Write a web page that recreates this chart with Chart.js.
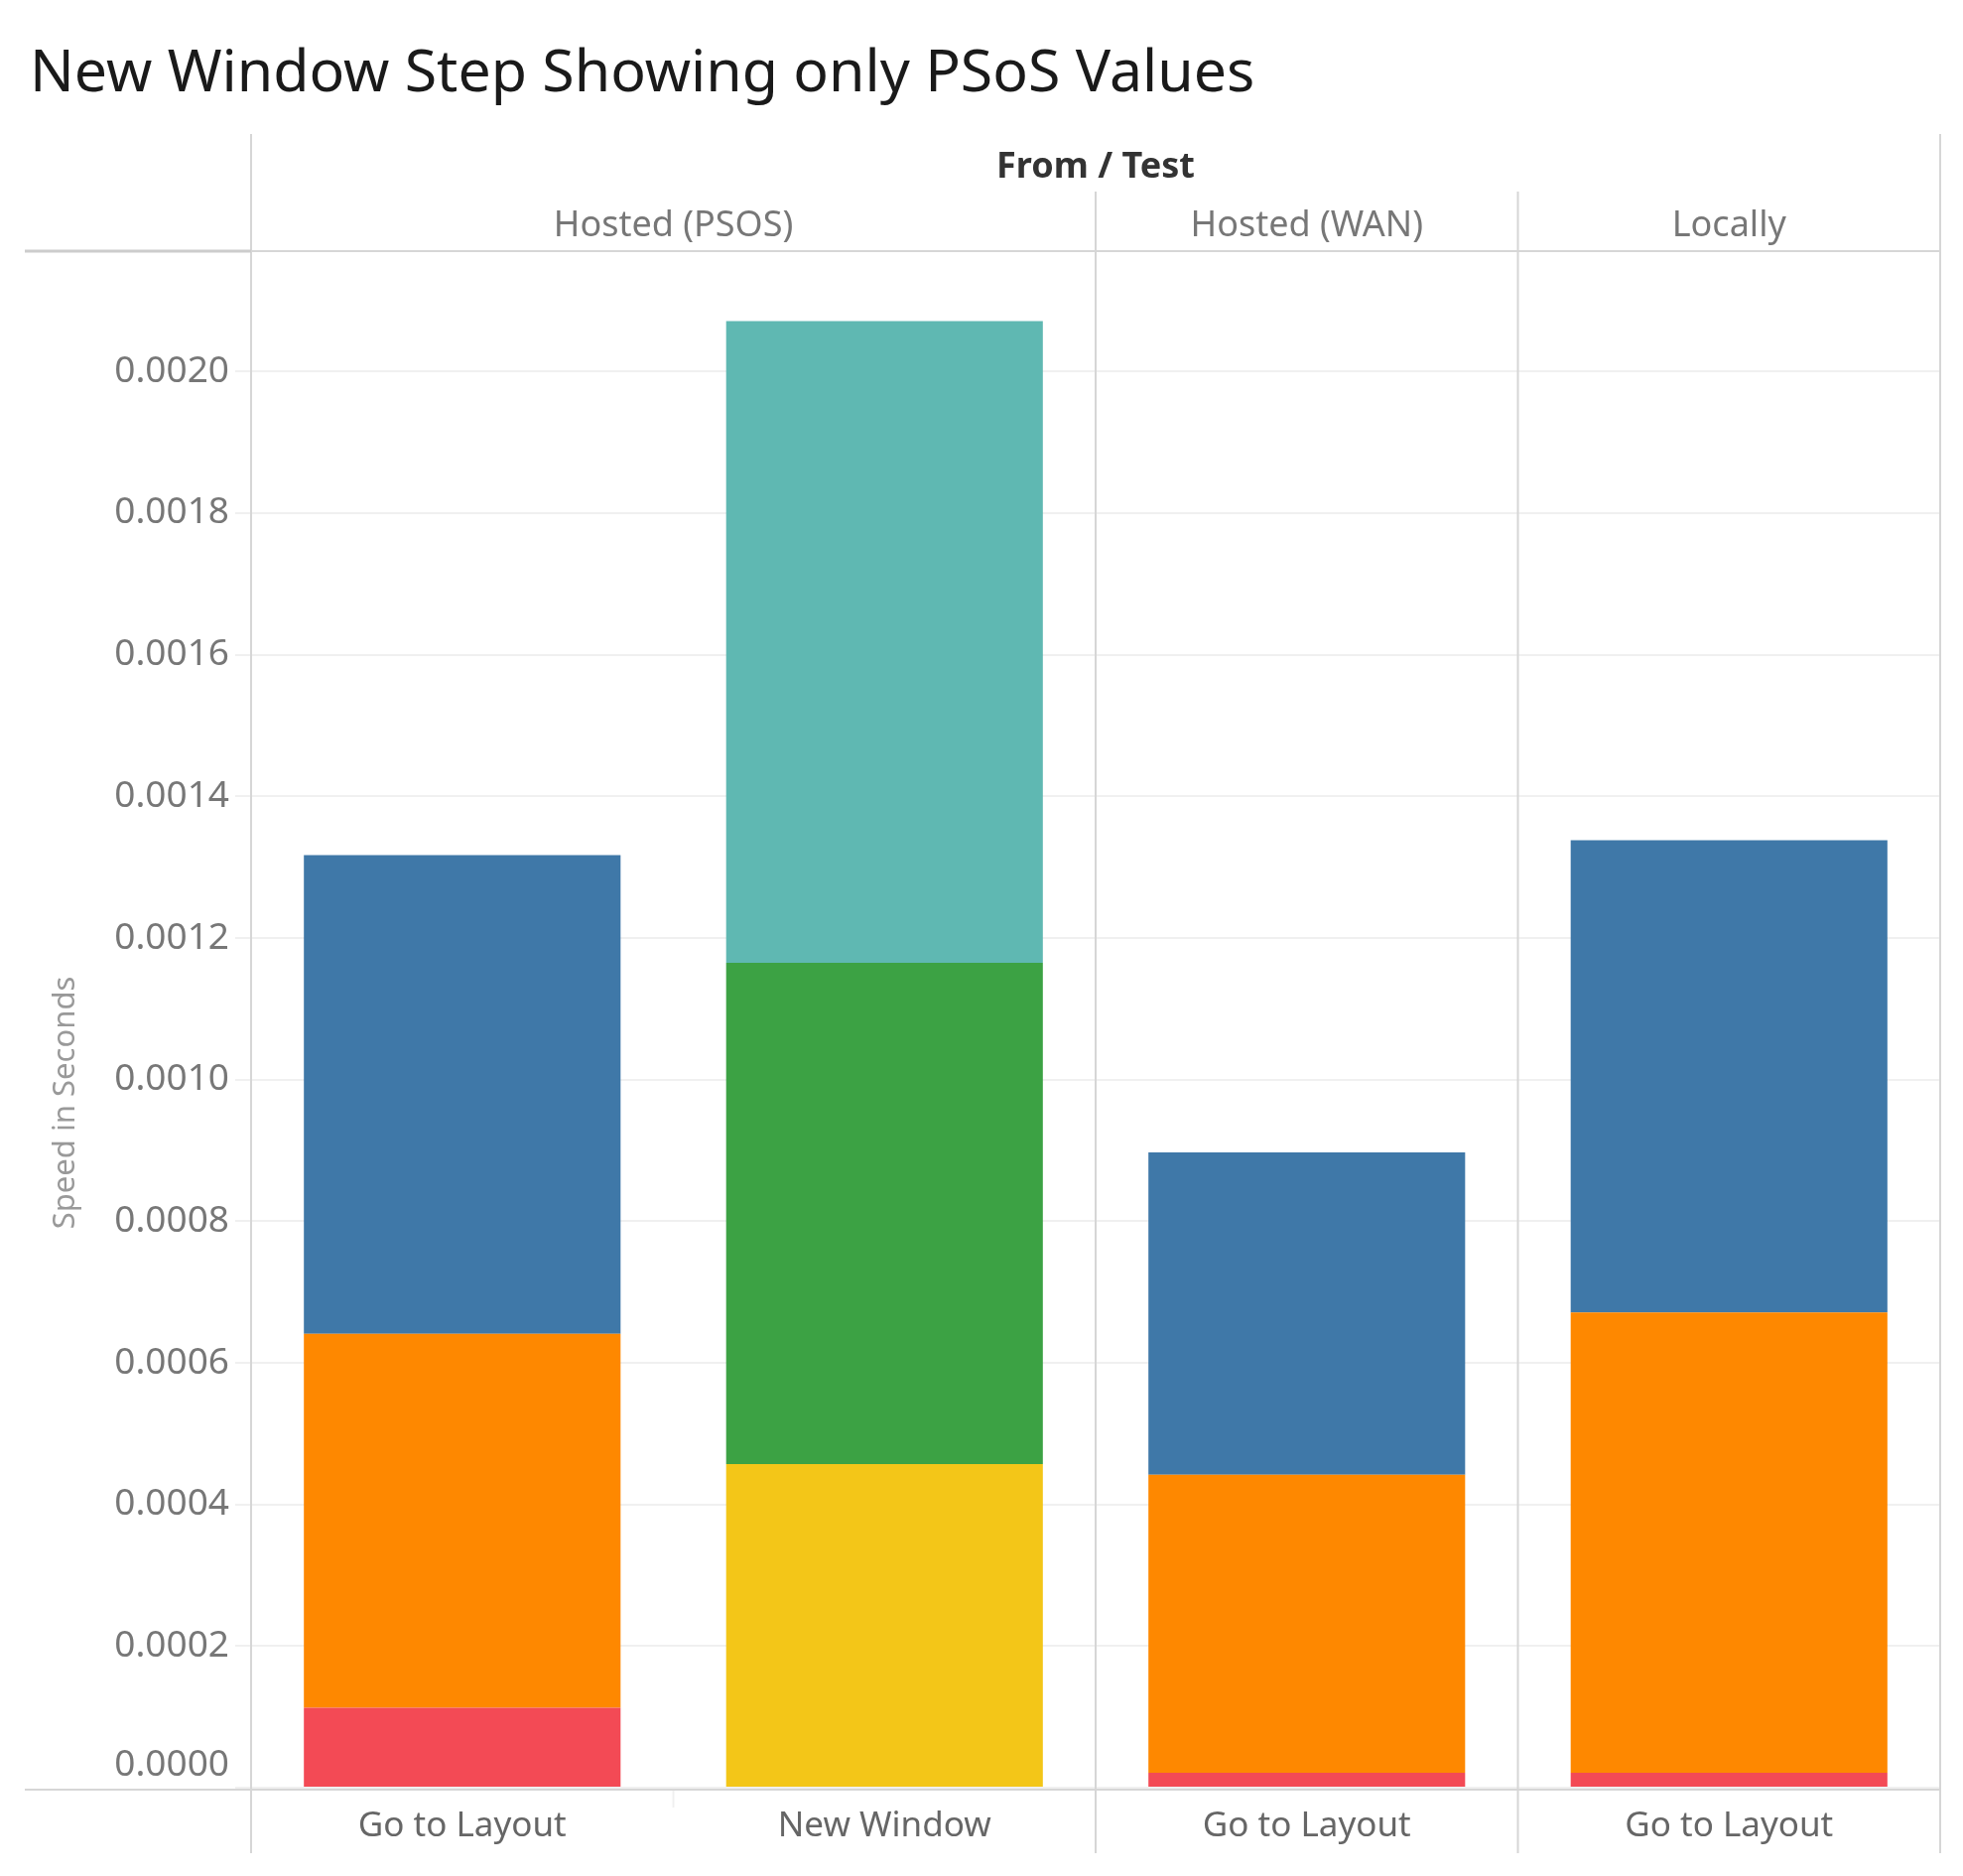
<!DOCTYPE html>
<html>
<head>
<meta charset="utf-8">
<title>New Window Step Showing only PSoS Values</title>
<script src="https://cdn.jsdelivr.net/npm/chart.js@4.4.1/dist/chart.umd.min.js"></script>
<style>
    html, body { margin: 0; padding: 0; background: #ffffff; }
    #wrap { width: 1978px; height: 1890px; position: relative; }
</style>
</head>
<body>
<div id="wrap"><canvas id="myBarChart"></canvas></div>
<script>
// test names along the x axis and where each one ran from
var tests = ['Go to Layout', 'New Window', 'Go to Layout', 'Go to Layout'];
var fromGroups = ['Hosted (PSOS)', 'Hosted (PSOS)', 'Hosted (WAN)', 'Locally'];

// stacked segments, seconds (null = segment not present for that test)
var redSegment    = [0.000113, null,     0.000021, 0.000021];
var orangeSegment = [0.000528, null,     0.000421, 0.000650];
var blueSegment   = [0.000676, null,     0.000455, 0.000667];
var yellowSegment = [null,     0.000457, null,     null];
var greenSegment  = [null,     0.000708, null,     null];
var tealSegment   = [null,     0.000906, null,     null];

var yMax = 0.00217;
var yStep = 0.0002;

var fontFamily = '"Noto Sans", "Open Sans", sans-serif';

window.onload = function() {
    var canvas = document.getElementById('myBarChart');

    var tableauFrame = {
        id: 'tableauFrame',
        beforeDraw: function(chart) {
            var ctx = chart.ctx;
            ctx.save();
            ctx.fillStyle = '#ffffff';
            ctx.fillRect(0, 0, chart.width, chart.height);
            ctx.restore();
        },
        afterDraw: function(chart) {
            var ctx = chart.ctx;
            var area = chart.chartArea;
            var x = chart.scales.x;

            ctx.save();

            // title
            ctx.fillStyle = '#1a1a1a';
            ctx.font = '400 59px ' + fontFamily;
            ctx.textAlign = 'left';
            ctx.textBaseline = 'alphabetic';
            ctx.fillText('New Window Step Showing only PSoS Values', 30, 92);

            // column header
            ctx.fillStyle = '#333333';
            ctx.font = '700 36px ' + fontFamily;
            ctx.textAlign = 'center';
            ctx.textBaseline = 'middle';
            ctx.fillText('From / Test', (area.left + area.right) / 2, 169);

            // group labels + group borders
            var half = (x.getPixelForValue(1) - x.getPixelForValue(0)) / 2;
            var start = 0;
            var bounds = [];
            for (var i = 1; i <= tests.length; i++) {
                if (i === tests.length || fromGroups[i] !== fromGroups[start]) {
                    var l = x.getPixelForValue(start) - half;
                    var r = x.getPixelForValue(i - 1) + half;
                    ctx.fillStyle = '#777777';
                    ctx.font = '400 36px ' + fontFamily;
                    ctx.fillText(fromGroups[start], (l + r) / 2, 228);
                    if (i < tests.length) bounds.push(r);
                    start = i;
                }
            }

            ctx.strokeStyle = '#d6d6d6';
            ctx.lineWidth = 2;
            ctx.beginPath();
            // header bottom and axis line
            ctx.moveTo(25, area.top); ctx.lineTo(area.right, area.top);
            ctx.moveTo(25, area.bottom + 2); ctx.lineTo(area.right, area.bottom + 2);
            // outer verticals
            ctx.moveTo(area.left, 135); ctx.lineTo(area.left, 1867);
            ctx.moveTo(area.right, 135); ctx.lineTo(area.right, 1867);
            bounds.forEach(function(bx) {
                ctx.moveTo(bx, 193); ctx.lineTo(bx, 1867);
            });
            ctx.stroke();

            ctx.strokeStyle = '#cccccc';
            ctx.lineWidth = 3;
            ctx.beginPath();
            ctx.moveTo(25, area.top); ctx.lineTo(area.left, area.top);
            ctx.stroke();

            // faint split inside the first group label row
            ctx.strokeStyle = '#f0f0f0';
            ctx.lineWidth = 2;
            ctx.beginPath();
            ctx.moveTo(x.getPixelForValue(0) + half, area.bottom + 3);
            ctx.lineTo(x.getPixelForValue(0) + half, area.bottom + 20);
            ctx.stroke();

            // y axis title
            ctx.translate(66, 1111);
            ctx.rotate(-Math.PI / 2);
            ctx.fillStyle = '#999999';
            ctx.font = '400 31px ' + fontFamily;
            ctx.textAlign = 'center';
            ctx.textBaseline = 'middle';
            ctx.fillText('Speed in Seconds', 0, 0);

            ctx.restore();
        }
    };

    function seg(label, data, color) {
        return {
            label: label,
            data: data,
            backgroundColor: color,
            borderWidth: 0,
            barPercentage: 0.75,
            categoryPercentage: 1.0
        };
    }

    var myBarChart = new Chart(canvas.getContext('2d'), {
        type: 'bar',
        data: {
            labels: tests,
            datasets: [
                seg('Segment 1', redSegment, '#F34A55'),
                seg('Segment 2', orangeSegment, '#FE8800'),
                seg('Segment 3', blueSegment, '#3F78A8'),
                seg('Segment 4', yellowSegment, '#F3C618'),
                seg('Segment 5', greenSegment, '#3CA244'),
                seg('Segment 6', tealSegment, '#5FB8B2')
            ]
        },
        options: {
            responsive: true,
            maintainAspectRatio: false,
            animation: false,
            devicePixelRatio: 1,
            layout: {
                padding: { top: 253, left: 0, right: 23, bottom: 0 }
            },
            plugins: {
                legend: { display: false },
                title: { display: false },
                tooltip: { enabled: false }
            },
            scales: {
                x: {
                    stacked: true,
                    grid: { display: false },
                    border: { display: false },
                    ticks: {
                        autoSkip: false,
                        maxRotation: 0,
                        color: '#666666',
                        padding: 10,
                        font: { family: fontFamily, size: 35 }
                    },
                    afterFit: function(scale) { scale.height = 89; }
                },
                y: {
                    stacked: true,
                    min: 0,
                    max: yMax,
                    border: { display: false },
                    grid: {
                        color: '#f0f0f0',
                        lineWidth: 2,
                        tickLength: 16
                    },
                    ticks: {
                        stepSize: yStep,
                        includeBounds: false,
                        padding: 6,
                        color: '#777777',
                        font: { family: fontFamily, size: 37 },
                        callback: function(value) {
                            var txt = Number(value).toFixed(4);
                            return value === 0 ? [txt, ''] : txt;
                        }
                    },
                    afterFit: function(scale) { scale.width = 253; }
                }
            }
        },
        plugins: [tableauFrame]
    });
};
</script>
</body>
</html>
